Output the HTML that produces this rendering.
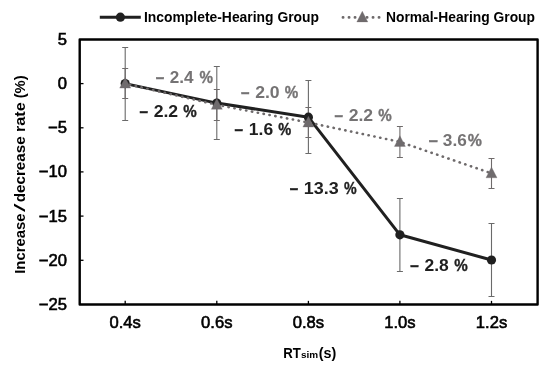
<!DOCTYPE html>
<html><head><meta charset="utf-8"><title>Chart</title>
<style>
html,body{margin:0;padding:0;background:#fff;}
body{width:550px;height:368px;overflow:hidden;}
svg{display:block;}
text{font-family:"Liberation Sans",sans-serif;}
.b{font-weight:bold;}
</style></head><body>
<svg width="550" height="368" viewBox="0 0 550 368">
<rect width="550" height="368" fill="#fff"/>
<path d="M125.2 47.5V120.5M122.2 47.5H128.2M122.2 120.5H128.2" stroke="#6a6a6a" stroke-width="1.1" fill="none"/>
<path d="M216.8 66.5V139.5M213.8 66.5H219.8M213.8 139.5H219.8" stroke="#6a6a6a" stroke-width="1.1" fill="none"/>
<path d="M308.4 80.5V153.5M305.4 80.5H311.4M305.4 153.5H311.4" stroke="#6a6a6a" stroke-width="1.1" fill="none"/>
<path d="M399.9 198.5V271.5M396.9 198.5H402.9M396.9 271.5H402.9" stroke="#6a6a6a" stroke-width="1.1" fill="none"/>
<path d="M491.5 223.5V296.5M488.5 223.5H494.5M488.5 296.5H494.5" stroke="#6a6a6a" stroke-width="1.1" fill="none"/>
<path d="M125.2 68.5V98.5M122.2 68.5H128.2M122.2 98.5H128.2" stroke="#6f6b6b" stroke-width="1.1" fill="none"/>
<path d="M216.8 89.5V120.5M213.8 89.5H219.8M213.8 120.5H219.8" stroke="#6f6b6b" stroke-width="1.1" fill="none"/>
<path d="M308.4 107.5V137.5M305.4 107.5H311.4M305.4 137.5H311.4" stroke="#6f6b6b" stroke-width="1.1" fill="none"/>
<path d="M399.9 126.5V157.5M396.9 126.5H402.9M396.9 157.5H402.9" stroke="#6f6b6b" stroke-width="1.1" fill="none"/>
<path d="M491.5 158.5V188.5M488.5 158.5H494.5M488.5 188.5H494.5" stroke="#6f6b6b" stroke-width="1.1" fill="none"/>
<polyline points="125.2,83.6 216.8,103.1 308.4,117.2 399.9,234.8 491.5,260.0" fill="none" stroke="#202020" stroke-width="3" stroke-linejoin="round"/>
<circle cx="125.2" cy="83.6" r="4.6" fill="#202020"/>
<circle cx="216.8" cy="103.1" r="4.6" fill="#202020"/>
<circle cx="308.4" cy="117.2" r="4.6" fill="#202020"/>
<circle cx="399.9" cy="234.8" r="4.6" fill="#202020"/>
<circle cx="491.5" cy="260.0" r="4.6" fill="#202020"/>
<polyline points="125.2,83.6 216.8,104.8 308.4,122.5 399.9,141.9 491.5,173.3" fill="none" stroke="#6e6a6b" stroke-width="2.6" stroke-linecap="round" stroke-dasharray="0.3 5.65" stroke-dashoffset="1.15"/>
<path d="M125.2 77.4L130.7 88.1H119.7Z" fill="#6f6b6d" stroke="#6f6b6d" stroke-width="0.3" stroke-linejoin="miter"/>
<path d="M216.8 98.6L222.3 109.3H211.3Z" fill="#6f6b6d" stroke="#6f6b6d" stroke-width="0.3" stroke-linejoin="miter"/>
<path d="M308.4 116.3L313.9 127.0H302.9Z" fill="#6f6b6d" stroke="#6f6b6d" stroke-width="0.3" stroke-linejoin="miter"/>
<path d="M399.9 135.7L405.4 146.4H394.4Z" fill="#6f6b6d" stroke="#6f6b6d" stroke-width="0.3" stroke-linejoin="miter"/>
<path d="M491.5 167.1L497.0 177.8H486.0Z" fill="#6f6b6d" stroke="#6f6b6d" stroke-width="0.3" stroke-linejoin="miter"/>
<rect x="79.7" y="39.45" width="457.9" height="265.0" fill="none" stroke="#000" stroke-width="2.4" stroke-linejoin="round"/>
<path d="M79.7 83.6H83.5" stroke="#000" stroke-width="1.3"/>
<path d="M79.7 127.8H83.5" stroke="#000" stroke-width="1.3"/>
<path d="M79.7 171.9H83.5" stroke="#000" stroke-width="1.3"/>
<path d="M79.7 216.1H83.5" stroke="#000" stroke-width="1.3"/>
<path d="M79.7 260.3H83.5" stroke="#000" stroke-width="1.3"/>
<text x="66.9" y="44.9" font-size="16.6" text-anchor="end" stroke="#000" stroke-width="0.6">5</text>
<text x="66.9" y="89.0" font-size="16.6" text-anchor="end" stroke="#000" stroke-width="0.6">0</text>
<text x="66.9" y="133.2" font-size="16.6" text-anchor="end" stroke="#000" stroke-width="0.6">−5</text>
<text x="66.9" y="177.3" font-size="16.6" text-anchor="end" stroke="#000" stroke-width="0.6">−10</text>
<text x="66.9" y="221.5" font-size="16.6" text-anchor="end" stroke="#000" stroke-width="0.6">−15</text>
<text x="66.9" y="265.7" font-size="16.6" text-anchor="end" stroke="#000" stroke-width="0.6">−20</text>
<text x="66.9" y="309.8" font-size="16.6" text-anchor="end" stroke="#000" stroke-width="0.6">−25</text>
<path d="M125.2 300.84999999999997V304.45" stroke="#000" stroke-width="1.3"/>
<text x="125.2" y="327.9" font-size="16.6" text-anchor="middle" stroke="#000" stroke-width="0.6">0.4s</text>
<path d="M216.8 300.84999999999997V304.45" stroke="#000" stroke-width="1.3"/>
<text x="216.8" y="327.9" font-size="16.6" text-anchor="middle" stroke="#000" stroke-width="0.6">0.6s</text>
<path d="M308.4 300.84999999999997V304.45" stroke="#000" stroke-width="1.3"/>
<text x="308.4" y="327.9" font-size="16.6" text-anchor="middle" stroke="#000" stroke-width="0.6">0.8s</text>
<path d="M399.9 300.84999999999997V304.45" stroke="#000" stroke-width="1.3"/>
<text x="399.9" y="327.9" font-size="16.6" text-anchor="middle" stroke="#000" stroke-width="0.6">1.0s</text>
<path d="M491.5 300.84999999999997V304.45" stroke="#000" stroke-width="1.3"/>
<text x="491.5" y="327.9" font-size="16.6" text-anchor="middle" stroke="#000" stroke-width="0.6">1.2s</text>
<text class="b" transform="translate(24.9,272.9) rotate(-90)" font-size="14.8" xml:space="preserve"><tspan x="-0.89" textLength="60.18" lengthAdjust="spacingAndGlyphs">Increase</tspan><tspan x="60.80" textLength="8.43" lengthAdjust="spacingAndGlyphs" font-weight="normal">/</tspan><tspan x="70.59" textLength="66.11" lengthAdjust="spacingAndGlyphs">decrease</tspan><tspan x="137.00" textLength="1" lengthAdjust="spacingAndGlyphs"> </tspan><tspan x="140.82" textLength="29.90" lengthAdjust="spacingAndGlyphs">rate</tspan><tspan x="171.00" textLength="1" lengthAdjust="spacingAndGlyphs"> </tspan><tspan x="174.61" textLength="22.92" lengthAdjust="spacingAndGlyphs">(%)</tspan></text>
<text class="b" y="358.3" font-size="14.7"><tspan x="283.2" textLength="17.6" lengthAdjust="spacingAndGlyphs">RT</tspan><tspan x="301" font-size="9.2" textLength="17.2" lengthAdjust="spacingAndGlyphs">sim</tspan><tspan x="318.8" textLength="17.6" lengthAdjust="spacingAndGlyphs">(s)</tspan></text>
<path d="M99.8 17.2H140.8" stroke="#202020" stroke-width="3"/><circle cx="120.4" cy="17.2" r="4.6" fill="#202020"/>
<text class="b" x="144" y="21.7" font-size="13.8" textLength="175" lengthAdjust="spacingAndGlyphs">Incomplete-Hearing Group</text>
<path d="M342.9 17.4H380" stroke="#6e6a6b" stroke-width="2.6" stroke-linecap="round" stroke-dasharray="0.3 5.7"/><path d="M362.3 11.2L367.8 21.9H356.8Z" fill="#6f6b6d" stroke="#6f6b6d" stroke-width="0.3" stroke-linejoin="miter"/>
<text class="b" x="386" y="21.7" font-size="13.8" textLength="149" lengthAdjust="spacingAndGlyphs">Normal-Hearing Group</text>
<text class="b" y="82.9" font-size="15.9" fill="#757374" color="#757374" xml:space="preserve"><tspan x="155.64" textLength="8.45" lengthAdjust="spacingAndGlyphs" stroke="currentColor" stroke-width="0.45">–</tspan><tspan x="163.90" textLength="1" lengthAdjust="spacingAndGlyphs"> </tspan><tspan x="169.89" textLength="23.75" lengthAdjust="spacingAndGlyphs">2.4</tspan><tspan x="193.70" textLength="1" lengthAdjust="spacingAndGlyphs"> </tspan><tspan x="199.55" textLength="13.49" lengthAdjust="spacingAndGlyphs" stroke="currentColor" stroke-width="0.35">%</tspan></text>
<text class="b" y="117.3" font-size="15.9" fill="#202020" color="#202020" xml:space="preserve"><tspan x="139.44" textLength="8.45" lengthAdjust="spacingAndGlyphs" stroke="currentColor" stroke-width="0.45">–</tspan><tspan x="147.70" textLength="1" lengthAdjust="spacingAndGlyphs"> </tspan><tspan x="153.67" textLength="24.46" lengthAdjust="spacingAndGlyphs">2.2</tspan><tspan x="177.50" textLength="1" lengthAdjust="spacingAndGlyphs"> </tspan><tspan x="183.35" textLength="13.49" lengthAdjust="spacingAndGlyphs" stroke="currentColor" stroke-width="0.35">%</tspan></text>
<text class="b" y="97.9" font-size="15.9" fill="#757374" color="#757374" xml:space="preserve"><tspan x="240.94" textLength="8.45" lengthAdjust="spacingAndGlyphs" stroke="currentColor" stroke-width="0.45">–</tspan><tspan x="249.20" textLength="1" lengthAdjust="spacingAndGlyphs"> </tspan><tspan x="255.17" textLength="24.46" lengthAdjust="spacingAndGlyphs">2.0</tspan><tspan x="279.00" textLength="1" lengthAdjust="spacingAndGlyphs"> </tspan><tspan x="284.85" textLength="13.49" lengthAdjust="spacingAndGlyphs" stroke="currentColor" stroke-width="0.35">%</tspan></text>
<text class="b" y="135.2" font-size="15.9" fill="#202020" color="#202020" xml:space="preserve"><tspan x="234.44" textLength="8.45" lengthAdjust="spacingAndGlyphs" stroke="currentColor" stroke-width="0.45">–</tspan><tspan x="242.70" textLength="1" lengthAdjust="spacingAndGlyphs"> </tspan><tspan x="248.85" textLength="24.28" lengthAdjust="spacingAndGlyphs">1.6</tspan><tspan x="272.50" textLength="1" lengthAdjust="spacingAndGlyphs"> </tspan><tspan x="278.36" textLength="12.97" lengthAdjust="spacingAndGlyphs" stroke="currentColor" stroke-width="0.35">%</tspan></text>
<text class="b" y="120.6" font-size="15.9" fill="#757374" color="#757374" xml:space="preserve"><tspan x="334.44" textLength="8.45" lengthAdjust="spacingAndGlyphs" stroke="currentColor" stroke-width="0.45">–</tspan><tspan x="342.70" textLength="1" lengthAdjust="spacingAndGlyphs"> </tspan><tspan x="348.67" textLength="24.46" lengthAdjust="spacingAndGlyphs">2.2</tspan><tspan x="372.50" textLength="1" lengthAdjust="spacingAndGlyphs"> </tspan><tspan x="378.35" textLength="13.49" lengthAdjust="spacingAndGlyphs" stroke="currentColor" stroke-width="0.35">%</tspan></text>
<text class="b" y="146.3" font-size="15.9" fill="#757374" color="#757374" xml:space="preserve"><tspan x="428.81" textLength="9.01" lengthAdjust="spacingAndGlyphs" stroke="currentColor" stroke-width="0.45">–</tspan><tspan x="437.60" textLength="1" lengthAdjust="spacingAndGlyphs"> </tspan><tspan x="442.86" textLength="23.97" lengthAdjust="spacingAndGlyphs">3.6</tspan><tspan x="467.73" textLength="14.12" lengthAdjust="spacingAndGlyphs" stroke="currentColor" stroke-width="0.35">%</tspan></text>
<text class="b" y="194.4" font-size="15.9" fill="#202020" color="#202020" xml:space="preserve"><tspan x="289.85" textLength="8.34" lengthAdjust="spacingAndGlyphs" stroke="currentColor" stroke-width="0.45">–</tspan><tspan x="298.00" textLength="1" lengthAdjust="spacingAndGlyphs"> </tspan><tspan x="303.82" textLength="34.93" lengthAdjust="spacingAndGlyphs">13.3</tspan><tspan x="338.10" textLength="1" lengthAdjust="spacingAndGlyphs"> </tspan><tspan x="344.07" textLength="12.66" lengthAdjust="spacingAndGlyphs" stroke="currentColor" stroke-width="0.35">%</tspan></text>
<text class="b" y="271.3" font-size="15.9" fill="#202020" color="#202020" xml:space="preserve"><tspan x="410.24" textLength="8.45" lengthAdjust="spacingAndGlyphs" stroke="currentColor" stroke-width="0.45">–</tspan><tspan x="418.50" textLength="1" lengthAdjust="spacingAndGlyphs"> </tspan><tspan x="424.48" textLength="24.28" lengthAdjust="spacingAndGlyphs">2.8</tspan><tspan x="448.30" textLength="1" lengthAdjust="spacingAndGlyphs"> </tspan><tspan x="454.15" textLength="13.49" lengthAdjust="spacingAndGlyphs" stroke="currentColor" stroke-width="0.35">%</tspan></text>
</svg></body></html>
